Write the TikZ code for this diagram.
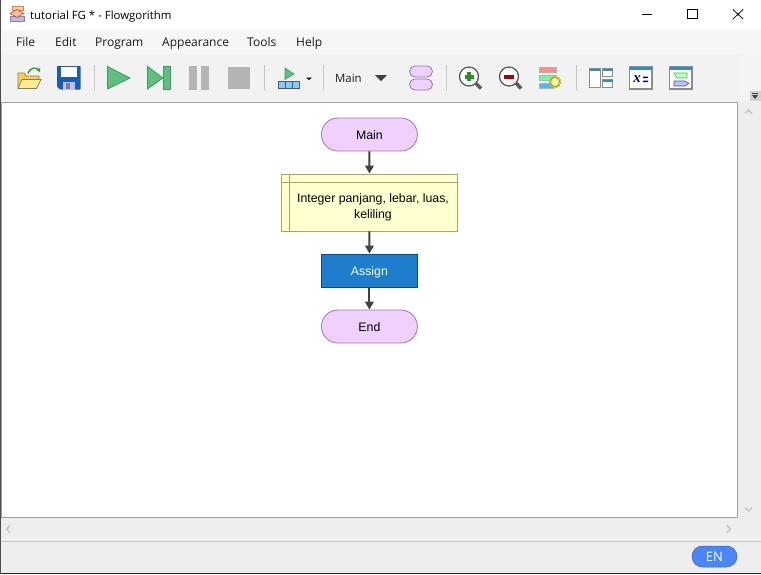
\documentclass[tikz,border=0pt]{standalone}
\usepackage{fontspec}
\setmainfont{Liberation Sans}
\newfontfamily\uifont{Open Sans}
\newfontfamily\xfont{Liberation Serif}
\usetikzlibrary{arrows.meta,shapes.misc}
\definecolor{termfill}{HTML}{F0D0FF}
\definecolor{termline}{HTML}{9A7AA8}
\definecolor{declfill}{HTML}{FFFFCF}
\definecolor{declline}{HTML}{A8A468}
\definecolor{assignfill}{HTML}{1E7DCD}
\definecolor{assignline}{HTML}{124A80}
\definecolor{flowline}{HTML}{404040}
\definecolor{barbg}{HTML}{EEEEEE}
\definecolor{menubg}{HTML}{F6F6F6}
\definecolor{toolbg}{HTML}{F2F2F2}
\definecolor{framegray}{HTML}{A0A0A0}
\definecolor{sepgray}{HTML}{C8C8C8}
\definecolor{playgreen}{HTML}{5FBF80}
\definecolor{playline}{HTML}{3C9A5C}
\definecolor{pausegray}{HTML}{B4B4B4}
\definecolor{lensgray}{HTML}{5A5A5A}
\definecolor{panelteal}{HTML}{2E8FB0}
\definecolor{enblue}{HTML}{4A86F7}
\definecolor{floppyblue}{HTML}{1A5DB4}
\tikzset{
 x=1pt,y=-1pt,
 flowtext/.style={font=\fontsize{12.3}{15.5}\selectfont,text=black,align=center,inner sep=0pt},
 term/.style={rounded rectangle,draw=termline,fill=termfill,line width=.8pt,minimum width=96pt,minimum height=33pt,inner sep=0pt,font=\fontsize{12.3}{16}\selectfont,text=black,text height=9pt,text depth=0pt},
 decl/.style={rectangle,draw=declline,fill=declfill,line width=.8pt,minimum width=176pt,minimum height=57pt,inner sep=0pt},
 assign/.style={rectangle,draw=assignline,fill=assignfill,line width=.8pt,minimum width=96pt,minimum height=33pt,inner sep=0pt,font=\fontsize{12.3}{16}\selectfont,text=white,text height=9pt,text depth=0pt},
 flow/.style={draw=flowline,line width=2pt,-{Triangle[length=8pt,width=8.5pt]},shorten >=0pt},
 menu/.style={font=\uifont\fontsize{12}{14}\selectfont,text=black!90,inner sep=0pt,anchor=base west},
 sep/.style={draw=sepgray,line width=.9pt},
 scrollarrow/.style={draw=sepgray,line width=1.6pt,line join=miter},
 panelicon/.style={draw=gray!90,line width=1pt,fill=white},
 iconpill/.style={rounded rectangle,draw=termline,fill=termfill,line width=.8pt,minimum width=23pt,minimum height=11pt,inner sep=0pt},
}
\begin{document}
\begin{tikzpicture}
\useasboundingbox (0,0) rectangle (761,574);
% window regions
\fill[white] (0,0) rectangle (761,30);
\fill[menubg] (0,30) rectangle (761,54);
\fill[toolbg] (0,54) rectangle (761,102);
\fill[barbg] (0,102) rectangle (761,574);
\fill[barbg!70!white] (740,54) rectangle (761,102);
\fill[white] (1,102.5) rectangle (737,517);
\draw[framegray,line width=1pt] (1.5,517) -- (1.5,102.5) -- (737,102.5) -- (737,517) -- cycle;
\draw[sepgray,line width=.8pt] (0,541.5) -- (761,541.5);
\fill[black!85] (0,573) rectangle (761,574);
\fill[black!70] (0,0) rectangle (1,574);
% title bar
\begin{scope}[line width=.6pt]
\fill[blue!30!gray!40,draw=blue!40!gray!70] (10.5,16) rectangle (24,21.5);
\fill[orange!40,draw=orange!70!black!70] (12,6) rectangle (23,10);
\fill[red!35!orange!40,draw=red!50!gray] (10,13.5) -- (17,9.5) -- (24,13.5) -- (17,17.5) -- cycle;
\end{scope}
\node[anchor=base west,inner sep=0pt,font=\uifont\fontsize{11.4}{14}\selectfont] (title) at (30,19.5) {tutorial FG * - Flowgorithm};
\draw[black,line width=.8pt] (642,14.5) -- (652,14.5);
\draw[black,line width=.8pt] (687.5,9.5) rectangle (697,18.5);
\draw[black,line width=.8pt] (733,9.5) -- (743,19) (743,9.5) -- (733,19);
% menu
\node[menu] (mfile) at (16,46) {File};
\node[menu] (medit) at (55,46) {Edit};
\node[menu] (mprog) at (95,46) {Program};
\node[menu] (mapp) at (162,46) {Appearance};
\node[menu] (mtools) at (247,46) {Tools};
\node[menu] (mhelp) at (296,46) {Help};
% open
\fill[yellow!50!orange!70,draw=yellow!45!black,line width=.7pt] (18,88) -- (18,73) -- (24,73) -- (26,76) -- (39,76) -- (39,80) -- (36,88) -- cycle;
\fill[yellow!70!orange!40,draw=yellow!45!black,line width=.7pt] (18,88.5) -- (22,79.5) -- (41,79.5) -- (36.5,88.5) -- cycle;
\draw[green!50!black!80,line width=1.4pt,-{Stealth[length=4pt,width=5pt]}] (28,73.5) .. controls (30,67) and (37,67) .. (40,72);
% save
\fill[floppyblue,rounded corners=.7pt] (57,66) -- (80.5,66) -- (80.5,89.5) -- (60,89.5) -- (57,86.5) -- cycle;
\fill[white] (60.5,67) rectangle (77,77);
\fill[white!75!blue] (63,81.5) rectangle (75,89.5);
\fill[gray] (66,82.5) rectangle (70,88.5);
% separators
\draw[sep] (94.5,65) -- (94.5,91);
\draw[sep] (264.5,65) -- (264.5,91);
\draw[sep] (323.5,65) -- (323.5,91);
\draw[sep] (446.5,65) -- (446.5,91);
\draw[sep] (576.5,65) -- (576.5,91);
% play, step
\fill[playgreen,draw=playline,line width=.8pt] (107.5,66.5) -- (130,78) -- (107.5,89) -- cycle;
\fill[playgreen,draw=playline,line width=.8pt] (147.5,66.5) -- (163,78) -- (147.5,89) -- cycle;
\fill[playgreen,draw=playline,line width=.8pt] (163.5,66.5) rectangle (170.5,89);
% pause, stop
\fill[pausegray] (189,66) rectangle (197,89.5);
\fill[pausegray] (201,66) rectangle (209,89.5);
\fill[pausegray] (228,67) rectangle (250,89);
% run speed icon
\fill[playgreen,draw=playline,line width=.6pt] (285,68) -- (294,74) -- (285,79.5) -- cycle;
\fill[blue!40!cyan!50,draw=gray!70!black,line width=.7pt] (278.5,81.5) rectangle (299.5,88);
\draw[gray!70!black,line width=.7pt] (285.5,81.5) -- (285.5,88) (292.5,81.5) -- (292.5,88);
\fill[black] (306,77.5) -- (312,77.5) -- (309,80) -- cycle;
% function selector
\node[menu,font=\uifont\fontsize{11.4}{14}\selectfont] (fname) at (335,82) {Main};
\fill[black!75] (375,75) -- (387,75) -- (381,81) -- cycle;
% add function icon
\node[iconpill] (iconA) at (421,71.5) {};
\node[iconpill] (iconB) at (421,84.5) {};
% zoom in
\draw[lensgray,line width=3.5pt] (475.5,83) -- (481,88.5);
\draw[lensgray,line width=1.3pt,fill=white] (469,76.5) circle (9.5);
\fill[green!50!black!85] (466.8,72) rectangle (471,81);
\fill[green!50!black!85] (464.5,74.5) rectangle (473.5,78.5);
% zoom out
\draw[lensgray,line width=3.5pt] (516,83) -- (521,88.5);
\draw[lensgray,line width=1.3pt,fill=white] (509,76.5) circle (9.5);
\fill[red!70!black] (504,74.5) rectangle (514,78.5);
% layout icon
\fill[red!45!white,draw=gray!60,line width=.6pt] (539.5,67.5) rectangle (556.5,72.5);
\fill[green!60!cyan!60,draw=gray!60,line width=.6pt] (539.5,75.5) rectangle (556.5,80.5);
\fill[blue!40!cyan!70,draw=gray!60,line width=.6pt] (539.5,83.5) rectangle (553,88.5);
\draw[yellow!70!black,fill=yellow!75!white,line width=1.8pt,densely dotted] (555,82) circle (5.5);
\draw[yellow!55!black,fill=yellow!60!white,line width=.7pt] (555,82) circle (4.5);
\fill[white] (555,82) circle (2);
% panels icon 1
\draw[panelicon] (589.5,68.5) rectangle (600,87.5);
\fill[panelteal] (589.5,68.5) rectangle (600,70.5);
\draw[panelicon] (602.5,68.5) rectangle (612.5,76);
\fill[panelteal] (602.5,68.5) rectangle (612.5,70.5);
\draw[panelicon] (602.5,79.5) rectangle (612.5,87.5);
\fill[panelteal] (602.5,79.5) rectangle (612.5,81.5);
% variables icon
\draw[panelicon,line width=1.2pt] (629.5,66.5) rectangle (652,89);
\fill[panelteal] (629.5,66.5) rectangle (652,69.5);
\node[inner sep=0pt,text=blue!50!black,font=\xfont\bfseries\itshape\fontsize{15}{15}\selectfont] (varx) at (637,79) {x};
\fill[blue!50!black] (643,76.5) rectangle (648,78) (643,80.5) rectangle (648,82);
% chart icon
\draw[panelicon,line width=1.2pt] (669.5,66.5) rectangle (692,89);
\fill[panelteal] (669.5,66.5) rectangle (692,69.5);
\fill[green!25!white,draw=green!50!gray,line width=.6pt] (674,73) -- (687,73) -- (687,78) -- (677,78) -- cycle;
\fill[blue!25!white,draw=blue!40!gray,line width=.6pt] (674,81) -- (685,81) -- (689,83.5) -- (685,86) -- (674,86) -- cycle;
% small toolbar expand
\fill[gray!35] (750,91) rectangle (761,101);
\fill[black!75] (752,92.5) rectangle (758,93.5);
\fill[black!75] (752,95) -- (758,95) -- (755,99) -- cycle;
% scroll arrows
\draw[scrollarrow] (745,113.5) -- (748.5,110) -- (752,113.5);
\draw[scrollarrow] (745,507.5) -- (748.5,511) -- (752,507.5);
\draw[scrollarrow] (10,525.5) -- (6.5,529) -- (10,532.5);
\draw[scrollarrow] (727,525.5) -- (730.5,529) -- (727,532.5);
% language button
\node[rounded rectangle,draw=enblue!70!black,fill=enblue,line width=.5pt,minimum width=45pt,minimum height=21pt,inner sep=0pt,text=white,font=\uifont\fontsize{13}{14}\selectfont] (lang) at (714.5,556.5) {EN};
% flowchart
\node[term] (main) at (369.4,134.5) {Main};
\node[decl] (vars) at (369.5,202.5) {};
\draw[declline,line width=.8pt] (281.5,182) -- (457.5,182) (289.5,174) -- (289.5,231);
\node[flowtext] (varstext) at (373,207.5) {Integer panjang, lebar, luas,\\keliling};
\node[assign] (calc) at (369.4,270.5) {Assign};
\node[term] (finish) at (369.4,326.5) {End};
\draw[flow] (main) -- (vars);
\draw[flow] (vars) -- (calc);
\draw[flow] (calc) -- (finish);
\end{tikzpicture}
\end{document}
